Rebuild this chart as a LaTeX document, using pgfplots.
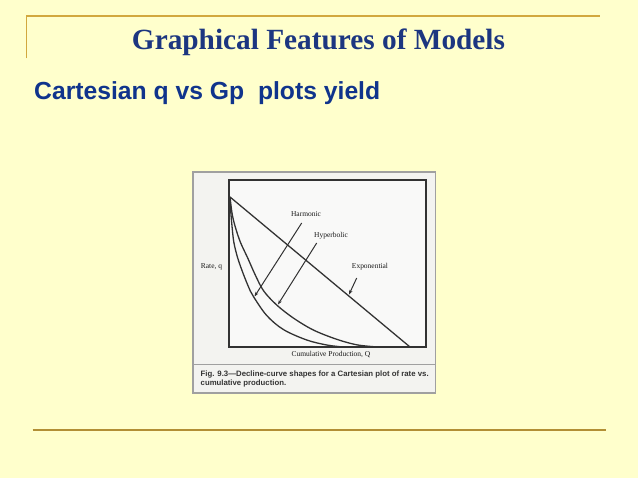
\documentclass[border=0pt]{standalone}
\usepackage{pgfplots}
\pgfplotsset{compat=1.18}
\usepackage{fontspec}
\setmainfont{Liberation Serif}
\newfontfamily\arial{Liberation Sans}
\usetikzlibrary{arrows.meta}
\definecolor{bgyellow}{RGB}{255,255,204}
\definecolor{gold}{RGB}{210,168,62}
\definecolor{titleblue}{RGB}{28,54,128}
\definecolor{subblue}{RGB}{16,52,140}
\definecolor{scanbg}{RGB}{243,243,240}
\definecolor{scanline}{RGB}{50,50,50}
\definecolor{boxgray}{RGB}{160,160,160}
\begin{document}
\begin{tikzpicture}[x=1bp,y=1bp]
\fill[bgyellow] (0,0) rectangle (638,478);
% slide decorations
\draw[gold, line width=1.4bp] (26.7,419.7) -- (26.7,462) -- (600,462);
\draw[gold!85!black, line width=1.6bp] (32.5,48) -- (606,48);
% title and subtitle
\node[anchor=base, inner sep=0pt, text=titleblue] at (318.5,428)
  {\resizebox{373bp}{!}{\fontsize{28}{30}\selectfont\bfseries Graphical Features of Models}};
\node[anchor=base west, inner sep=0pt, text=subblue] at (34,378)
  {\resizebox{346bp}{!}{\arial\fontsize{22}{24}\selectfont\bfseries Cartesian q vs Gp\ \ plots yield}};
% scanned figure frame
\filldraw[fill=scanbg, draw=boxgray, line width=1.2bp] (193,85) rectangle (435.5,306);
\draw[boxgray, line width=1bp] (193,113) -- (435.5,113);
\node[anchor=base west, inner sep=0pt, text=black!80] at (200.5,101)
  {\resizebox{228bp}{!}{\arial\fontsize{7.8}{9}\selectfont\bfseries Fig. 9.3—Decline-curve shapes for a Cartesian plot of rate vs.}};
\node[anchor=base west, inner sep=0pt, text=black!80] at (200.5,92)
  {\arial\fontsize{7.8}{9}\selectfont\bfseries cumulative production.};
\begin{axis}[
  at={(229,131)}, anchor=south west,
  width=197bp, height=167bp, scale only axis,
  xmin=0, xmax=197, ymin=0, ymax=167,
  axis lines=box, ticks=none, clip=false,
  axis line style={scanline, line width=1.2bp},
  axis background/.style={fill=white!50!scanbg},
]
% Exponential
\addplot[scanline, line width=1.3bp] coordinates {(1,150) (181,0)};
% Harmonic
\addplot[scanline, line width=1.3bp, smooth, tension=0.55] coordinates {
 (1,150) (1.8,135) (2.9,122) (4.8,105) (8.7,89) (14.7,72) (21.3,56)
 (25,49.5) (37.7,31.5) (54.3,17.5) (77.7,7) (97.7,2) (112,0.2)};
% Hyperbolic
\addplot[scanline, line width=1.3bp, smooth, tension=0.55] coordinates {
 (1,150) (3,134) (6,121) (11.3,105) (18.7,89) (26.5,71.5) (34.7,56)
 (47.7,42) (64.3,29) (84.3,17) (107.7,7.7) (127.7,2.2) (146,0.2)};
% arrows
\addplot[scanline, line width=1bp, -{Stealth[length=4.5bp,width=3.4bp]}] coordinates {(72.7,124) (25.5,50.5)};
\addplot[scanline, line width=1bp, -{Stealth[length=4.5bp,width=3.4bp]}] coordinates {(87.7,104) (49,42.5)};
\addplot[scanline, line width=1bp, -{Stealth[length=4.5bp,width=3.4bp]}] coordinates {(127.7,69) (120,52.5)};
% labels
\node[font=\fontsize{7.5}{8}\selectfont, text=black!90] at (axis cs:77,133) {Harmonic};
\node[font=\fontsize{7.5}{8}\selectfont, text=black!90] at (axis cs:102,111.5) {Hyperbolic};
\node[font=\fontsize{7.5}{8}\selectfont, text=black!90] at (axis cs:141,80) {Exponential};
\node[font=\fontsize{7.5}{8}\selectfont, text=black!90] at (axis cs:-17.5,80.5) {Rate, q};
\node[font=\fontsize{7.5}{8}\selectfont, text=black!90] at (axis cs:102,-7.5) {Cumulative Production, Q};
\end{axis}
\end{tikzpicture}
\end{document}
